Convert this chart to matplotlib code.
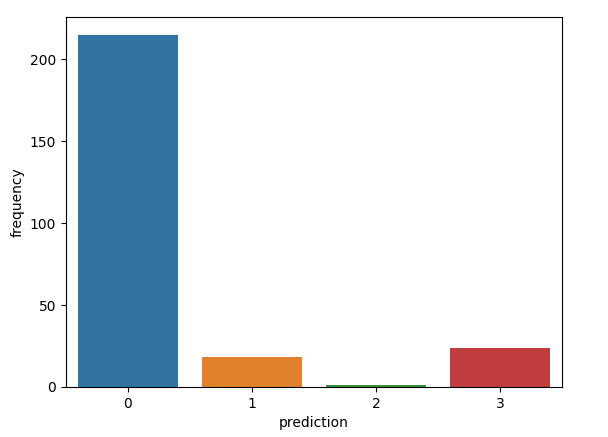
import matplotlib
matplotlib.use("Agg")
import matplotlib.pyplot as plt
import seaborn as sns

categories = ["0", "1", "2", "3"]
frequency = [215, 18, 1, 24]

W, H = 608, 437
fig = plt.figure(figsize=(W / 100, H / 100), dpi=100)
ax = fig.add_axes([66 / W, (H - 387) / H, (562 - 66) / W, (387 - 17) / H])
sns.barplot(x=categories, y=frequency, hue=categories, palette="tab10",
            saturation=0.75, legend=False, ax=ax)
ax.set_xlabel("prediction")
ax.set_ylabel("frequency")
fig.savefig("out.png", dpi=100)
